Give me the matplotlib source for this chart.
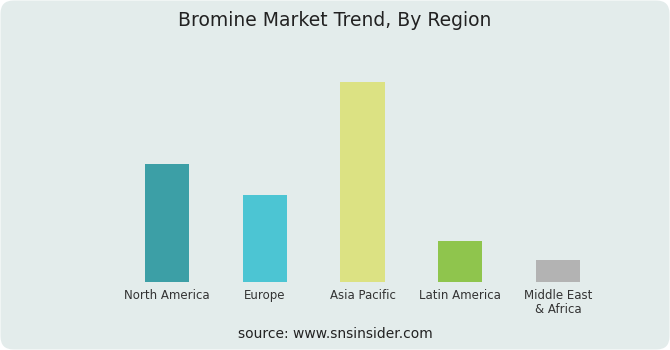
import matplotlib
matplotlib.use("Agg")
import matplotlib.pyplot as plt
from matplotlib.patches import FancyBboxPatch

categories = ["North America", "Europe", "Asia Pacific", "Latin America", "Middle East\n& Africa"]
values = [118, 87, 200, 41, 22]
colors = ["#3c9fa6", "#4cc5d3", "#dce283", "#8fc54d", "#b3b3b3"]

W, H = 670, 350
fig = plt.figure(figsize=(W / 100, H / 100), dpi=100)
fig.patch.set_facecolor("white")

bgax = fig.add_axes([0, 0, 1, 1], zorder=-1)
bgax.set_axis_off()
bgax.set_xlim(0, W)
bgax.set_ylim(0, H)
bg = FancyBboxPatch((0.5, 0.5), W - 1, H - 1,
                    boxstyle="round,pad=0,rounding_size=13",
                    facecolor="#e3eceb", edgecolor="none")
bgax.add_patch(bg)

ax_left, ax_right = 118 / W, 607 / W
ax_bottom = (H - 282) / H
ax_top = (H - 72) / H
ax = fig.add_axes([ax_left, ax_bottom, ax_right - ax_left, ax_top - ax_bottom], zorder=1)
ax.set_facecolor("none")
x = list(range(len(categories)))
ax.bar(x, values, width=0.45, color=colors, edgecolor="none")
ax.set_xlim(-0.5, 4.5)
ax.set_ylim(0, 210)
for s in ax.spines.values():
    s.set_visible(False)
ax.set_yticks([])
ax.set_xticks(x)
ax.set_xticklabels(categories, fontsize=8.5, color="#333333", family="DejaVu Sans",
                   linespacing=1.1)
ax.tick_params(axis="x", length=0, pad=5)

fig.text(0.5, (H - 20) / H, "Bromine Market Trend, By Region", ha="center", va="center",
         fontsize=13.5, color="#222222", family="DejaVu Sans")
fig.text(0.5, (H - 334) / H, "source: www.snsinsider.com", ha="center", va="center",
         fontsize=10, color="#222222", family="DejaVu Sans")

fig.savefig("out.png", dpi=100, facecolor=fig.get_facecolor())
